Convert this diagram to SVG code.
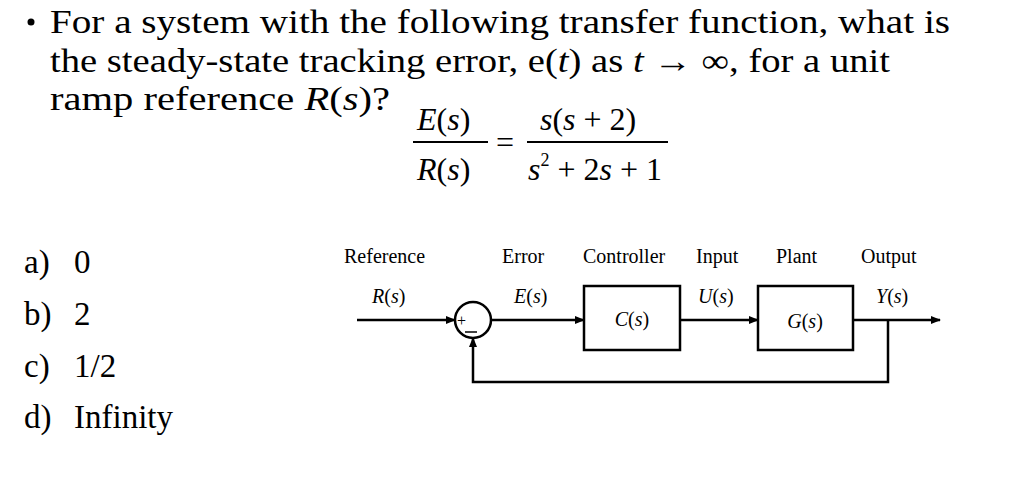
<svg xmlns="http://www.w3.org/2000/svg" width="1024" height="490" viewBox="0 0 1024 490">
<defs>
<style>
.q{font-family:"Liberation Serif",serif;font-size:33px;fill:#000}
.m{font-family:"Liberation Serif",serif;font-size:32px;fill:#000}
.l{font-family:"Liberation Serif",serif;font-size:20px;fill:#000}
.ln{stroke:#000;stroke-width:2.5;fill:none}
</style>
<marker id="a" markerWidth="10" markerHeight="8" refX="9" refY="4" orient="auto" markerUnits="userSpaceOnUse"><path d="M0,0L10,4L0,8z" fill="#000"/></marker>
</defs>
<rect width="1024" height="490" fill="#fff"/>
<g id="question">
<circle cx="31" cy="22" r="3.5" fill="#000"/>
<text class="q" x="50" y="33" textLength="900" lengthAdjust="spacingAndGlyphs">For a system with the following transfer function, what is</text>
<text class="q" x="50" y="72" textLength="840" lengthAdjust="spacingAndGlyphs">the steady-state tracking error, e(<tspan font-style="italic">t</tspan>) as <tspan font-style="italic">t</tspan> <tspan font-weight="bold">→</tspan> ∞, for a unit</text>
<text class="q" x="50" y="110" textLength="340" lengthAdjust="spacingAndGlyphs">ramp reference <tspan font-style="italic">R</tspan>(<tspan font-style="italic">s</tspan>)?</text>
</g>
<g id="formula">
<text class="m" x="417" y="130"><tspan font-style="italic">E</tspan>(<tspan font-style="italic">s</tspan>)</text>
<line x1="413" y1="142" x2="488" y2="142" stroke="#000" stroke-width="2"/>
<text class="m" x="417" y="180"><tspan font-style="italic">R</tspan>(<tspan font-style="italic">s</tspan>)</text>
<text class="m" x="496" y="153">=</text>
<text class="m" x="540" y="130"><tspan font-style="italic">s</tspan>(<tspan font-style="italic">s</tspan> + 2)</text>
<line x1="527" y1="142" x2="668" y2="142" stroke="#000" stroke-width="2"/>
<text class="m" x="528" y="180"><tspan font-style="italic">s</tspan><tspan font-size="18" dy="-14">2</tspan><tspan dy="14"> + 2</tspan><tspan font-style="italic">s</tspan> + 1</text>
</g>
<g id="answers">
<text class="q" x="24" y="273">a)<tspan x="74">0</tspan></text>
<text class="q" x="24" y="325">b)<tspan x="74">2</tspan></text>
<text class="q" x="24" y="377">c)<tspan x="74">1/2</tspan></text>
<text class="q" x="24" y="428">d)<tspan x="74">Infinity</tspan></text>
</g>
<g id="labels">
<text class="l" x="344" y="263">Reference</text>
<text class="l" x="502" y="263">Error</text>
<text class="l" x="583" y="263">Controller</text>
<text class="l" x="696" y="263">Input</text>
<text class="l" x="776" y="263">Plant</text>
<text class="l" x="861" y="263">Output</text>
<text class="l" x="372" y="303" font-style="italic">R<tspan font-style="normal">(</tspan>s<tspan font-style="normal">)</tspan></text>
<text class="l" x="514" y="303" font-style="italic">E<tspan font-style="normal">(</tspan>s<tspan font-style="normal">)</tspan></text>
<text class="l" x="698" y="303" font-style="italic">U<tspan font-style="normal">(</tspan>s<tspan font-style="normal">)</tspan></text>
<text class="l" x="876" y="303" font-style="italic">Y<tspan font-style="normal">(</tspan>s<tspan font-style="normal">)</tspan></text>
</g>
<g id="sum">
<circle cx="473" cy="320" r="18" class="ln"/>
<text x="457" y="326" font-family="Liberation Serif,serif" font-size="16">+</text>
<line x1="465" y1="332" x2="477" y2="332" stroke="#000" stroke-width="1.5"/>
</g>
<g id="controller">
<rect x="584" y="286" width="96" height="64" class="ln"/>
<text class="l" x="632" y="326" text-anchor="middle" font-style="italic">C<tspan font-style="normal">(</tspan>s<tspan font-style="normal">)</tspan></text>
</g>
<g id="plant">
<rect x="758" y="286" width="95" height="64" class="ln"/>
<text class="l" x="805" y="328" text-anchor="middle" font-style="italic">G<tspan font-style="normal">(</tspan>s<tspan font-style="normal">)</tspan></text>
</g>
<g id="connectors">
<line x1="357" y1="320" x2="455" y2="320" class="ln" marker-end="url(#a)"/>
<line x1="491" y1="320" x2="584" y2="320" class="ln" marker-end="url(#a)"/>
<line x1="680" y1="320" x2="758" y2="320" class="ln" marker-end="url(#a)"/>
<line x1="853" y1="320" x2="940" y2="320" class="ln" marker-end="url(#a)"/>
<polyline points="888,320 888,382 473,382 473,338" class="ln" marker-end="url(#a)"/>
</g>
</svg>
